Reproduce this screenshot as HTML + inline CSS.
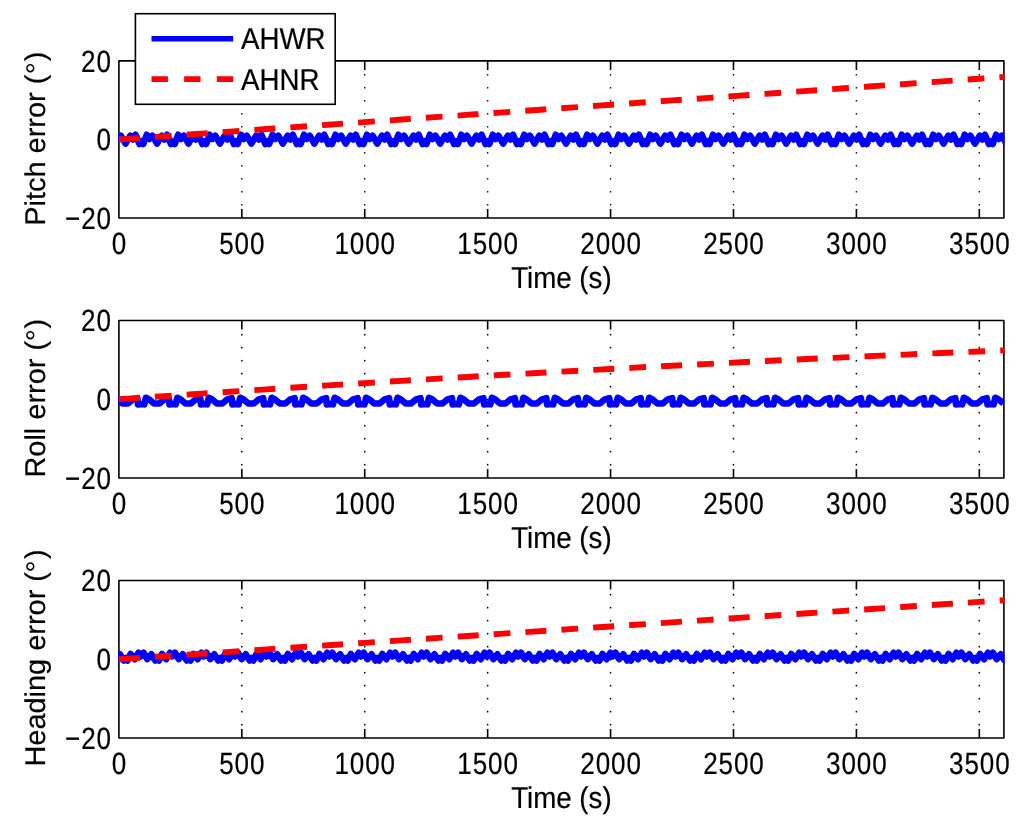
<!DOCTYPE html>
<html><head><meta charset="utf-8"><title>Attitude errors</title>
<style>html,body{margin:0;padding:0;background:#fff}svg{display:block}text{text-rendering:geometricPrecision;font-family:"Liberation Sans",Arial,Helvetica,sans-serif;font-size:27.7px;fill:#000;stroke:#000;stroke-width:0.2px}text.d{letter-spacing:0.98px}</style></head><body>
<svg width="1024" height="820" viewBox="0 0 1024 820">
<rect width="1024" height="820" fill="#fff"/>
<defs>
<clipPath id="c0"><rect x="118.15" y="60.90" width="886.25" height="157.15"/></clipPath>
<clipPath id="c1"><rect x="118.15" y="320.50" width="886.25" height="157.50"/></clipPath>
<clipPath id="c2"><rect x="118.15" y="580.50" width="886.25" height="157.50"/></clipPath>
</defs>
<rect x="118.90" y="60.90" width="885.00" height="157.15" fill="none" stroke="#000" stroke-linejoin="round" stroke-width="1.6"/>
<path d="M241.82 218.05v-9M241.82 60.90v9M364.73 218.05v-9M364.73 60.90v9M487.65 218.05v-9M487.65 60.90v9M610.57 218.05v-9M610.57 60.90v9M733.48 218.05v-9M733.48 60.90v9M856.40 218.05v-9M856.40 60.90v9M979.32 218.05v-9M979.32 60.90v9M118.90 139.47h9M1003.90 139.47h-9" stroke="#000" stroke-width="1.6" fill="none"/>
<line x1="241.82" y1="204.75" x2="241.82" y2="72.90" stroke="#000" stroke-width="1.7" stroke-dasharray="0.01 12.99" stroke-linecap="round"/>
<line x1="364.73" y1="204.75" x2="364.73" y2="72.90" stroke="#000" stroke-width="1.7" stroke-dasharray="0.01 12.99" stroke-linecap="round"/>
<line x1="487.65" y1="204.75" x2="487.65" y2="72.90" stroke="#000" stroke-width="1.7" stroke-dasharray="0.01 12.99" stroke-linecap="round"/>
<line x1="610.57" y1="204.75" x2="610.57" y2="72.90" stroke="#000" stroke-width="1.7" stroke-dasharray="0.01 12.99" stroke-linecap="round"/>
<line x1="733.48" y1="204.75" x2="733.48" y2="72.90" stroke="#000" stroke-width="1.7" stroke-dasharray="0.01 12.99" stroke-linecap="round"/>
<line x1="856.40" y1="204.75" x2="856.40" y2="72.90" stroke="#000" stroke-width="1.7" stroke-dasharray="0.01 12.99" stroke-linecap="round"/>
<line x1="979.32" y1="204.75" x2="979.32" y2="72.90" stroke="#000" stroke-width="1.7" stroke-dasharray="0.01 12.99" stroke-linecap="round"/>
<g clip-path="url(#c0)"><polyline fill="none" stroke="#0000ff" stroke-width="6.5" stroke-linejoin="round" stroke-linecap="butt" points="76.63,144.10 78.48,141.10 80.33,144.10 83.83,134.70 86.58,139.00 89.48,135.60 94.08,143.60 98.83,135.60 101.48,139.50 104.08,134.70 108.09,144.10 109.94,141.10 111.79,144.10 115.29,134.70 118.04,139.00 120.94,135.60 125.54,143.60 130.29,135.60 132.94,139.50 135.54,134.70 139.55,144.10 141.40,141.10 143.25,144.10 146.75,134.70 149.50,139.00 152.40,135.60 157.00,143.60 161.75,135.60 164.40,139.50 167.00,134.70 171.01,144.10 172.86,141.10 174.71,144.10 178.21,134.70 180.96,139.00 183.86,135.60 188.46,143.60 193.21,135.60 195.86,139.50 198.46,134.70 202.47,144.10 204.32,141.10 206.17,144.10 209.67,134.70 212.42,139.00 215.32,135.60 219.92,143.60 224.67,135.60 227.32,139.50 229.92,134.70 233.93,144.10 235.78,141.10 237.63,144.10 241.13,134.70 243.88,139.00 246.78,135.60 251.38,143.60 256.13,135.60 258.78,139.50 261.38,134.70 265.39,144.10 267.24,141.10 269.09,144.10 272.59,134.70 275.34,139.00 278.24,135.60 282.84,143.60 287.59,135.60 290.24,139.50 292.84,134.70 296.85,144.10 298.70,141.10 300.55,144.10 304.05,134.70 306.80,139.00 309.70,135.60 314.30,143.60 319.05,135.60 321.70,139.50 324.30,134.70 328.31,144.10 330.16,141.10 332.01,144.10 335.51,134.70 338.26,139.00 341.16,135.60 345.76,143.60 350.51,135.60 353.16,139.50 355.76,134.70 359.77,144.10 361.62,141.10 363.47,144.10 366.97,134.70 369.72,139.00 372.62,135.60 377.22,143.60 381.97,135.60 384.62,139.50 387.22,134.70 391.23,144.10 393.08,141.10 394.93,144.10 398.43,134.70 401.18,139.00 404.08,135.60 408.68,143.60 413.43,135.60 416.08,139.50 418.68,134.70 422.69,144.10 424.54,141.10 426.39,144.10 429.89,134.70 432.64,139.00 435.54,135.60 440.14,143.60 444.89,135.60 447.54,139.50 450.14,134.70 454.15,144.10 456.00,141.10 457.85,144.10 461.35,134.70 464.10,139.00 467.00,135.60 471.60,143.60 476.35,135.60 479.00,139.50 481.60,134.70 485.61,144.10 487.46,141.10 489.31,144.10 492.81,134.70 495.56,139.00 498.46,135.60 503.06,143.60 507.81,135.60 510.46,139.50 513.06,134.70 517.07,144.10 518.92,141.10 520.77,144.10 524.27,134.70 527.02,139.00 529.92,135.60 534.52,143.60 539.27,135.60 541.92,139.50 544.52,134.70 548.53,144.10 550.38,141.10 552.23,144.10 555.73,134.70 558.48,139.00 561.38,135.60 565.98,143.60 570.73,135.60 573.38,139.50 575.98,134.70 579.99,144.10 581.84,141.10 583.69,144.10 587.19,134.70 589.94,139.00 592.84,135.60 597.44,143.60 602.19,135.60 604.84,139.50 607.44,134.70 611.45,144.10 613.30,141.10 615.15,144.10 618.65,134.70 621.40,139.00 624.30,135.60 628.90,143.60 633.65,135.60 636.30,139.50 638.90,134.70 642.91,144.10 644.76,141.10 646.61,144.10 650.11,134.70 652.86,139.00 655.76,135.60 660.36,143.60 665.11,135.60 667.76,139.50 670.36,134.70 674.37,144.10 676.22,141.10 678.07,144.10 681.57,134.70 684.32,139.00 687.22,135.60 691.82,143.60 696.57,135.60 699.22,139.50 701.82,134.70 705.83,144.10 707.68,141.10 709.53,144.10 713.03,134.70 715.78,139.00 718.68,135.60 723.28,143.60 728.03,135.60 730.68,139.50 733.28,134.70 737.29,144.10 739.14,141.10 740.99,144.10 744.49,134.70 747.24,139.00 750.14,135.60 754.74,143.60 759.49,135.60 762.14,139.50 764.74,134.70 768.75,144.10 770.60,141.10 772.45,144.10 775.95,134.70 778.70,139.00 781.60,135.60 786.20,143.60 790.95,135.60 793.60,139.50 796.20,134.70 800.21,144.10 802.06,141.10 803.91,144.10 807.41,134.70 810.16,139.00 813.06,135.60 817.66,143.60 822.41,135.60 825.06,139.50 827.66,134.70 831.67,144.10 833.52,141.10 835.37,144.10 838.87,134.70 841.62,139.00 844.52,135.60 849.12,143.60 853.87,135.60 856.52,139.50 859.12,134.70 863.13,144.10 864.98,141.10 866.83,144.10 870.33,134.70 873.08,139.00 875.98,135.60 880.58,143.60 885.33,135.60 887.98,139.50 890.58,134.70 894.59,144.10 896.44,141.10 898.29,144.10 901.79,134.70 904.54,139.00 907.44,135.60 912.04,143.60 916.79,135.60 919.44,139.50 922.04,134.70 926.05,144.10 927.90,141.10 929.75,144.10 933.25,134.70 936.00,139.00 938.90,135.60 943.50,143.60 948.25,135.60 950.90,139.50 953.50,134.70 957.51,144.10 959.36,141.10 961.21,144.10 964.71,134.70 967.46,139.00 970.36,135.60 974.96,143.60 979.71,135.60 982.36,139.50 984.96,134.70 988.97,144.10 990.82,141.10 992.67,144.10 996.17,134.70 998.92,139.00 1001.82,135.60 1006.42,143.60 1011.17,135.60 1013.82,139.50 1016.42,134.70"/>
<polyline fill="none" points="118.90,139.47 131.19,138.61 143.48,137.74 155.78,136.87 168.07,136.00 180.36,135.14 192.65,134.27 204.94,133.40 217.23,132.53 229.53,131.67 241.82,130.80 254.11,129.93 266.40,129.06 278.69,128.20 290.98,127.33 303.27,126.46 315.57,125.59 327.86,124.73 340.15,123.86 352.44,122.99 364.73,122.12 377.02,121.26 389.32,120.39 401.61,119.52 413.90,118.65 426.19,117.79 438.48,116.92 450.77,116.05 463.07,115.18 475.36,114.31 487.65,113.45 499.94,112.58 512.23,111.71 524.52,110.84 536.82,109.98 549.11,109.11 561.40,108.24 573.69,107.37 585.98,106.51 598.27,105.64 610.57,104.77 622.86,103.90 635.15,103.04 647.44,102.17 659.73,101.30 672.02,100.43 684.32,99.57 696.61,98.70 708.90,97.83 721.19,96.96 733.48,96.10 745.77,95.23 758.07,94.36 770.36,93.49 782.65,92.62 794.94,91.76 807.23,90.89 819.52,90.02 831.82,89.15 844.11,88.29 856.40,87.42 868.69,86.55 880.98,85.68 893.27,84.82 905.57,83.95 917.86,83.08 930.15,82.21 942.44,81.35 954.73,80.48 967.02,79.61 979.32,78.74 991.61,77.88 1003.90,77.01 1005.38,76.90" stroke="#ff0000" stroke-width="5.9" stroke-dasharray="21.05 15.04 16.74 15.07"/></g>
<text class="d" transform="translate(119.36 254.05) scale(0.94 1.115)" text-anchor="middle">0</text>
<text class="d" transform="translate(242.28 254.05) scale(0.94 1.115)" text-anchor="middle">500</text>
<text class="d" transform="translate(365.19 254.05) scale(0.94 1.115)" text-anchor="middle">1000</text>
<text class="d" transform="translate(488.11 254.05) scale(0.94 1.115)" text-anchor="middle">1500</text>
<text class="d" transform="translate(611.03 254.05) scale(0.94 1.115)" text-anchor="middle">2000</text>
<text class="d" transform="translate(733.94 254.05) scale(0.94 1.115)" text-anchor="middle">2500</text>
<text class="d" transform="translate(856.86 254.05) scale(0.94 1.115)" text-anchor="middle">3000</text>
<text class="d" transform="translate(979.78 254.05) scale(0.94 1.115)" text-anchor="middle">3500</text>
<text class="d" transform="translate(111.92 71.60) scale(0.94 1.115)" text-anchor="end">20</text>
<text class="d" transform="translate(111.92 150.17) scale(0.94 1.115)" text-anchor="end">0</text>
<text class="d" transform="translate(111.92 228.75) scale(0.94 1.115)" text-anchor="end">−20</text>
<text transform="translate(561.40 287.85) scale(1 1.090)" text-anchor="middle">Time (s)</text>
<g transform="translate(44.6 139.47) scale(1.03 1.045) rotate(-90)"><text x="62.00" y="0" text-anchor="end">Pitch error (</text><text x="68.17" y="2.2" text-anchor="middle" style="font-size:29px;stroke:none">°</text><text x="79.45" y="0" text-anchor="middle">)</text></g>
<rect x="118.90" y="320.50" width="885.00" height="157.50" fill="none" stroke="#000" stroke-linejoin="round" stroke-width="1.6"/>
<path d="M241.82 478.00v-9M241.82 320.50v9M364.73 478.00v-9M364.73 320.50v9M487.65 478.00v-9M487.65 320.50v9M610.57 478.00v-9M610.57 320.50v9M733.48 478.00v-9M733.48 320.50v9M856.40 478.00v-9M856.40 320.50v9M979.32 478.00v-9M979.32 320.50v9M118.90 399.25h9M1003.90 399.25h-9" stroke="#000" stroke-width="1.6" fill="none"/>
<line x1="241.82" y1="464.70" x2="241.82" y2="332.50" stroke="#000" stroke-width="1.7" stroke-dasharray="0.01 12.99" stroke-linecap="round"/>
<line x1="364.73" y1="464.70" x2="364.73" y2="332.50" stroke="#000" stroke-width="1.7" stroke-dasharray="0.01 12.99" stroke-linecap="round"/>
<line x1="487.65" y1="464.70" x2="487.65" y2="332.50" stroke="#000" stroke-width="1.7" stroke-dasharray="0.01 12.99" stroke-linecap="round"/>
<line x1="610.57" y1="464.70" x2="610.57" y2="332.50" stroke="#000" stroke-width="1.7" stroke-dasharray="0.01 12.99" stroke-linecap="round"/>
<line x1="733.48" y1="464.70" x2="733.48" y2="332.50" stroke="#000" stroke-width="1.7" stroke-dasharray="0.01 12.99" stroke-linecap="round"/>
<line x1="856.40" y1="464.70" x2="856.40" y2="332.50" stroke="#000" stroke-width="1.7" stroke-dasharray="0.01 12.99" stroke-linecap="round"/>
<line x1="979.32" y1="464.70" x2="979.32" y2="332.50" stroke="#000" stroke-width="1.7" stroke-dasharray="0.01 12.99" stroke-linecap="round"/>
<g clip-path="url(#c1)"><polyline fill="none" stroke="#0000ff" stroke-width="6.5" stroke-linejoin="round" stroke-linecap="butt" points="65.08,403.40 70.08,399.30 74.48,398.10 75.08,404.40 78.48,404.00 81.33,404.40 82.88,397.70 86.33,399.40 91.08,403.40 96.54,403.40 101.54,399.30 105.94,398.10 106.54,404.40 109.94,404.00 112.79,404.40 114.34,397.70 117.79,399.40 122.54,403.40 128.00,403.40 133.00,399.30 137.40,398.10 138.00,404.40 141.40,404.00 144.25,404.40 145.80,397.70 149.25,399.40 154.00,403.40 159.46,403.40 164.46,399.30 168.86,398.10 169.46,404.40 172.86,404.00 175.71,404.40 177.26,397.70 180.71,399.40 185.46,403.40 190.92,403.40 195.92,399.30 200.32,398.10 200.92,404.40 204.32,404.00 207.17,404.40 208.72,397.70 212.17,399.40 216.92,403.40 222.38,403.40 227.38,399.30 231.78,398.10 232.38,404.40 235.78,404.00 238.63,404.40 240.18,397.70 243.63,399.40 248.38,403.40 253.84,403.40 258.84,399.30 263.24,398.10 263.84,404.40 267.24,404.00 270.09,404.40 271.64,397.70 275.09,399.40 279.84,403.40 285.30,403.40 290.30,399.30 294.70,398.10 295.30,404.40 298.70,404.00 301.55,404.40 303.10,397.70 306.55,399.40 311.30,403.40 316.76,403.40 321.76,399.30 326.16,398.10 326.76,404.40 330.16,404.00 333.01,404.40 334.56,397.70 338.01,399.40 342.76,403.40 348.22,403.40 353.22,399.30 357.62,398.10 358.22,404.40 361.62,404.00 364.47,404.40 366.02,397.70 369.47,399.40 374.22,403.40 379.68,403.40 384.68,399.30 389.08,398.10 389.68,404.40 393.08,404.00 395.93,404.40 397.48,397.70 400.93,399.40 405.68,403.40 411.14,403.40 416.14,399.30 420.54,398.10 421.14,404.40 424.54,404.00 427.39,404.40 428.94,397.70 432.39,399.40 437.14,403.40 442.60,403.40 447.60,399.30 452.00,398.10 452.60,404.40 456.00,404.00 458.85,404.40 460.40,397.70 463.85,399.40 468.60,403.40 474.06,403.40 479.06,399.30 483.46,398.10 484.06,404.40 487.46,404.00 490.31,404.40 491.86,397.70 495.31,399.40 500.06,403.40 505.52,403.40 510.52,399.30 514.92,398.10 515.52,404.40 518.92,404.00 521.77,404.40 523.32,397.70 526.77,399.40 531.52,403.40 536.98,403.40 541.98,399.30 546.38,398.10 546.98,404.40 550.38,404.00 553.23,404.40 554.78,397.70 558.23,399.40 562.98,403.40 568.44,403.40 573.44,399.30 577.84,398.10 578.44,404.40 581.84,404.00 584.69,404.40 586.24,397.70 589.69,399.40 594.44,403.40 599.90,403.40 604.90,399.30 609.30,398.10 609.90,404.40 613.30,404.00 616.15,404.40 617.70,397.70 621.15,399.40 625.90,403.40 631.36,403.40 636.36,399.30 640.76,398.10 641.36,404.40 644.76,404.00 647.61,404.40 649.16,397.70 652.61,399.40 657.36,403.40 662.82,403.40 667.82,399.30 672.22,398.10 672.82,404.40 676.22,404.00 679.07,404.40 680.62,397.70 684.07,399.40 688.82,403.40 694.28,403.40 699.28,399.30 703.68,398.10 704.28,404.40 707.68,404.00 710.53,404.40 712.08,397.70 715.53,399.40 720.28,403.40 725.74,403.40 730.74,399.30 735.14,398.10 735.74,404.40 739.14,404.00 741.99,404.40 743.54,397.70 746.99,399.40 751.74,403.40 757.20,403.40 762.20,399.30 766.60,398.10 767.20,404.40 770.60,404.00 773.45,404.40 775.00,397.70 778.45,399.40 783.20,403.40 788.66,403.40 793.66,399.30 798.06,398.10 798.66,404.40 802.06,404.00 804.91,404.40 806.46,397.70 809.91,399.40 814.66,403.40 820.12,403.40 825.12,399.30 829.52,398.10 830.12,404.40 833.52,404.00 836.37,404.40 837.92,397.70 841.37,399.40 846.12,403.40 851.58,403.40 856.58,399.30 860.98,398.10 861.58,404.40 864.98,404.00 867.83,404.40 869.38,397.70 872.83,399.40 877.58,403.40 883.04,403.40 888.04,399.30 892.44,398.10 893.04,404.40 896.44,404.00 899.29,404.40 900.84,397.70 904.29,399.40 909.04,403.40 914.50,403.40 919.50,399.30 923.90,398.10 924.50,404.40 927.90,404.00 930.75,404.40 932.30,397.70 935.75,399.40 940.50,403.40 945.96,403.40 950.96,399.30 955.36,398.10 955.96,404.40 959.36,404.00 962.21,404.40 963.76,397.70 967.21,399.40 971.96,403.40 977.42,403.40 982.42,399.30 986.82,398.10 987.42,404.40 990.82,404.00 993.67,404.40 995.22,397.70 998.67,399.40 1003.42,403.40"/>
<polyline fill="none" points="118.90,399.25 131.19,398.40 143.48,397.55 155.78,396.70 168.07,395.86 180.36,395.03 192.65,394.20 204.94,393.37 217.23,392.55 229.53,391.74 241.82,390.93 254.11,390.13 266.40,389.33 278.69,388.53 290.98,387.74 303.27,386.96 315.57,386.18 327.86,385.40 340.15,384.63 352.44,383.87 364.73,383.11 377.02,382.35 389.32,381.60 401.61,380.86 413.90,380.12 426.19,379.38 438.48,378.65 450.77,377.92 463.07,377.20 475.36,376.49 487.65,375.78 499.94,375.07 512.23,374.37 524.52,373.68 536.82,372.99 549.11,372.30 561.40,371.62 573.69,370.94 585.98,370.27 598.27,369.61 610.57,368.95 622.86,368.29 635.15,367.64 647.44,366.99 659.73,366.35 672.02,365.72 684.32,365.09 696.61,364.46 708.90,363.84 721.19,363.22 733.48,362.61 745.77,362.01 758.07,361.40 770.36,360.81 782.65,360.22 794.94,359.63 807.23,359.05 819.52,358.47 831.82,357.90 844.11,357.33 856.40,356.77 868.69,356.22 880.98,355.66 893.27,355.12 905.57,354.58 917.86,354.04 930.15,353.51 942.44,352.98 954.73,352.46 967.02,351.94 979.32,351.43 991.61,350.92 1003.90,350.42 1005.38,350.36" stroke="#ff0000" stroke-width="5.9" stroke-dasharray="21.05 15.04 16.74 15.07"/></g>
<text class="d" transform="translate(119.36 514.00) scale(0.94 1.115)" text-anchor="middle">0</text>
<text class="d" transform="translate(242.28 514.00) scale(0.94 1.115)" text-anchor="middle">500</text>
<text class="d" transform="translate(365.19 514.00) scale(0.94 1.115)" text-anchor="middle">1000</text>
<text class="d" transform="translate(488.11 514.00) scale(0.94 1.115)" text-anchor="middle">1500</text>
<text class="d" transform="translate(611.03 514.00) scale(0.94 1.115)" text-anchor="middle">2000</text>
<text class="d" transform="translate(733.94 514.00) scale(0.94 1.115)" text-anchor="middle">2500</text>
<text class="d" transform="translate(856.86 514.00) scale(0.94 1.115)" text-anchor="middle">3000</text>
<text class="d" transform="translate(979.78 514.00) scale(0.94 1.115)" text-anchor="middle">3500</text>
<text class="d" transform="translate(111.92 331.20) scale(0.94 1.115)" text-anchor="end">20</text>
<text class="d" transform="translate(111.92 409.95) scale(0.94 1.115)" text-anchor="end">0</text>
<text class="d" transform="translate(111.92 488.70) scale(0.94 1.115)" text-anchor="end">−20</text>
<text transform="translate(561.40 547.80) scale(1 1.090)" text-anchor="middle">Time (s)</text>
<g transform="translate(44.6 399.25) scale(1.03 1.045) rotate(-90)"><text x="55.80" y="0" text-anchor="end">Roll error (</text><text x="61.20" y="2.2" text-anchor="middle" style="font-size:29px;stroke:none">°</text><text x="72.35" y="0" text-anchor="middle">)</text></g>
<rect x="118.90" y="580.50" width="885.00" height="157.50" fill="none" stroke="#000" stroke-linejoin="round" stroke-width="1.6"/>
<path d="M241.82 738.00v-9M241.82 580.50v9M364.73 738.00v-9M364.73 580.50v9M487.65 738.00v-9M487.65 580.50v9M610.57 738.00v-9M610.57 580.50v9M733.48 738.00v-9M733.48 580.50v9M856.40 738.00v-9M856.40 580.50v9M979.32 738.00v-9M979.32 580.50v9M118.90 659.25h9M1003.90 659.25h-9" stroke="#000" stroke-width="1.6" fill="none"/>
<line x1="241.82" y1="724.70" x2="241.82" y2="592.50" stroke="#000" stroke-width="1.7" stroke-dasharray="0.01 12.99" stroke-linecap="round"/>
<line x1="364.73" y1="724.70" x2="364.73" y2="592.50" stroke="#000" stroke-width="1.7" stroke-dasharray="0.01 12.99" stroke-linecap="round"/>
<line x1="487.65" y1="724.70" x2="487.65" y2="592.50" stroke="#000" stroke-width="1.7" stroke-dasharray="0.01 12.99" stroke-linecap="round"/>
<line x1="610.57" y1="724.70" x2="610.57" y2="592.50" stroke="#000" stroke-width="1.7" stroke-dasharray="0.01 12.99" stroke-linecap="round"/>
<line x1="733.48" y1="724.70" x2="733.48" y2="592.50" stroke="#000" stroke-width="1.7" stroke-dasharray="0.01 12.99" stroke-linecap="round"/>
<line x1="856.40" y1="724.70" x2="856.40" y2="592.50" stroke="#000" stroke-width="1.7" stroke-dasharray="0.01 12.99" stroke-linecap="round"/>
<line x1="979.32" y1="724.70" x2="979.32" y2="592.50" stroke="#000" stroke-width="1.7" stroke-dasharray="0.01 12.99" stroke-linecap="round"/>
<g clip-path="url(#c2)"><polyline fill="none" stroke="#0000ff" stroke-width="6.5" stroke-linejoin="round" stroke-linecap="butt" points="60.92,660.60 63.12,658.00 64.62,660.60 67.72,654.00 71.82,659.20 75.62,652.70 77.72,656.50 80.62,652.70 84.32,659.20 88.42,654.30 92.38,660.60 94.58,658.00 96.08,660.60 99.18,654.00 103.28,659.20 107.08,652.70 109.18,656.50 112.08,652.70 115.78,659.20 119.88,654.30 123.84,660.60 126.04,658.00 127.54,660.60 130.64,654.00 134.74,659.20 138.54,652.70 140.64,656.50 143.54,652.70 147.24,659.20 151.34,654.30 155.30,660.60 157.50,658.00 159.00,660.60 162.10,654.00 166.20,659.20 170.00,652.70 172.10,656.50 175.00,652.70 178.70,659.20 182.80,654.30 186.76,660.60 188.96,658.00 190.46,660.60 193.56,654.00 197.66,659.20 201.46,652.70 203.56,656.50 206.46,652.70 210.16,659.20 214.26,654.30 218.22,660.60 220.42,658.00 221.92,660.60 225.02,654.00 229.12,659.20 232.92,652.70 235.02,656.50 237.92,652.70 241.62,659.20 245.72,654.30 249.68,660.60 251.88,658.00 253.38,660.60 256.48,654.00 260.58,659.20 264.38,652.70 266.48,656.50 269.38,652.70 273.08,659.20 277.18,654.30 281.14,660.60 283.34,658.00 284.84,660.60 287.94,654.00 292.04,659.20 295.84,652.70 297.94,656.50 300.84,652.70 304.54,659.20 308.64,654.30 312.60,660.60 314.80,658.00 316.30,660.60 319.40,654.00 323.50,659.20 327.30,652.70 329.40,656.50 332.30,652.70 336.00,659.20 340.10,654.30 344.06,660.60 346.26,658.00 347.76,660.60 350.86,654.00 354.96,659.20 358.76,652.70 360.86,656.50 363.76,652.70 367.46,659.20 371.56,654.30 375.52,660.60 377.72,658.00 379.22,660.60 382.32,654.00 386.42,659.20 390.22,652.70 392.32,656.50 395.22,652.70 398.92,659.20 403.02,654.30 406.98,660.60 409.18,658.00 410.68,660.60 413.78,654.00 417.88,659.20 421.68,652.70 423.78,656.50 426.68,652.70 430.38,659.20 434.48,654.30 438.44,660.60 440.64,658.00 442.14,660.60 445.24,654.00 449.34,659.20 453.14,652.70 455.24,656.50 458.14,652.70 461.84,659.20 465.94,654.30 469.90,660.60 472.10,658.00 473.60,660.60 476.70,654.00 480.80,659.20 484.60,652.70 486.70,656.50 489.60,652.70 493.30,659.20 497.40,654.30 501.36,660.60 503.56,658.00 505.06,660.60 508.16,654.00 512.26,659.20 516.06,652.70 518.16,656.50 521.06,652.70 524.76,659.20 528.86,654.30 532.82,660.60 535.02,658.00 536.52,660.60 539.62,654.00 543.72,659.20 547.52,652.70 549.62,656.50 552.52,652.70 556.22,659.20 560.32,654.30 564.28,660.60 566.48,658.00 567.98,660.60 571.08,654.00 575.18,659.20 578.98,652.70 581.08,656.50 583.98,652.70 587.68,659.20 591.78,654.30 595.74,660.60 597.94,658.00 599.44,660.60 602.54,654.00 606.64,659.20 610.44,652.70 612.54,656.50 615.44,652.70 619.14,659.20 623.24,654.30 627.20,660.60 629.40,658.00 630.90,660.60 634.00,654.00 638.10,659.20 641.90,652.70 644.00,656.50 646.90,652.70 650.60,659.20 654.70,654.30 658.66,660.60 660.86,658.00 662.36,660.60 665.46,654.00 669.56,659.20 673.36,652.70 675.46,656.50 678.36,652.70 682.06,659.20 686.16,654.30 690.12,660.60 692.32,658.00 693.82,660.60 696.92,654.00 701.02,659.20 704.82,652.70 706.92,656.50 709.82,652.70 713.52,659.20 717.62,654.30 721.58,660.60 723.78,658.00 725.28,660.60 728.38,654.00 732.48,659.20 736.28,652.70 738.38,656.50 741.28,652.70 744.98,659.20 749.08,654.30 753.04,660.60 755.24,658.00 756.74,660.60 759.84,654.00 763.94,659.20 767.74,652.70 769.84,656.50 772.74,652.70 776.44,659.20 780.54,654.30 784.50,660.60 786.70,658.00 788.20,660.60 791.30,654.00 795.40,659.20 799.20,652.70 801.30,656.50 804.20,652.70 807.90,659.20 812.00,654.30 815.96,660.60 818.16,658.00 819.66,660.60 822.76,654.00 826.86,659.20 830.66,652.70 832.76,656.50 835.66,652.70 839.36,659.20 843.46,654.30 847.42,660.60 849.62,658.00 851.12,660.60 854.22,654.00 858.32,659.20 862.12,652.70 864.22,656.50 867.12,652.70 870.82,659.20 874.92,654.30 878.88,660.60 881.08,658.00 882.58,660.60 885.68,654.00 889.78,659.20 893.58,652.70 895.68,656.50 898.58,652.70 902.28,659.20 906.38,654.30 910.34,660.60 912.54,658.00 914.04,660.60 917.14,654.00 921.24,659.20 925.04,652.70 927.14,656.50 930.04,652.70 933.74,659.20 937.84,654.30 941.80,660.60 944.00,658.00 945.50,660.60 948.60,654.00 952.70,659.20 956.50,652.70 958.60,656.50 961.50,652.70 965.20,659.20 969.30,654.30 973.26,660.60 975.46,658.00 976.96,660.60 980.06,654.00 984.16,659.20 987.96,652.70 990.06,656.50 992.96,652.70 996.66,659.20 1000.76,654.30 1004.72,660.60 1006.92,658.00 1008.42,660.60 1011.52,654.00 1015.62,659.20 1019.42,652.70 1021.52,656.50 1024.42,652.70 1028.12,659.20 1032.22,654.30"/>
<polyline fill="none" points="118.90,659.25 131.19,658.43 143.48,657.61 155.78,656.79 168.07,655.97 180.36,655.15 192.65,654.33 204.94,653.51 217.23,652.69 229.53,651.87 241.82,651.05 254.11,650.23 266.40,649.41 278.69,648.59 290.98,647.77 303.27,646.95 315.57,646.12 327.86,645.30 340.15,644.48 352.44,643.66 364.73,642.84 377.02,642.02 389.32,641.20 401.61,640.38 413.90,639.56 426.19,638.74 438.48,637.92 450.77,637.10 463.07,636.28 475.36,635.46 487.65,634.64 499.94,633.82 512.23,633.00 524.52,632.18 536.82,631.36 549.11,630.54 561.40,629.72 573.69,628.90 585.98,628.08 598.27,627.26 610.57,626.44 622.86,625.62 635.15,624.80 647.44,623.98 659.73,623.16 672.02,622.34 684.32,621.52 696.61,620.70 708.90,619.88 721.19,619.05 733.48,618.23 745.77,617.41 758.07,616.59 770.36,615.77 782.65,614.95 794.94,614.13 807.23,613.31 819.52,612.49 831.82,611.67 844.11,610.85 856.40,610.03 868.69,609.21 880.98,608.39 893.27,607.57 905.57,606.75 917.86,605.93 930.15,605.11 942.44,604.29 954.73,603.47 967.02,602.65 979.32,601.83 991.61,601.01 1003.90,600.19 1005.38,600.09" stroke="#ff0000" stroke-width="5.9" stroke-dasharray="21.05 15.04 16.74 15.07"/></g>
<text class="d" transform="translate(119.36 774.00) scale(0.94 1.115)" text-anchor="middle">0</text>
<text class="d" transform="translate(242.28 774.00) scale(0.94 1.115)" text-anchor="middle">500</text>
<text class="d" transform="translate(365.19 774.00) scale(0.94 1.115)" text-anchor="middle">1000</text>
<text class="d" transform="translate(488.11 774.00) scale(0.94 1.115)" text-anchor="middle">1500</text>
<text class="d" transform="translate(611.03 774.00) scale(0.94 1.115)" text-anchor="middle">2000</text>
<text class="d" transform="translate(733.94 774.00) scale(0.94 1.115)" text-anchor="middle">2500</text>
<text class="d" transform="translate(856.86 774.00) scale(0.94 1.115)" text-anchor="middle">3000</text>
<text class="d" transform="translate(979.78 774.00) scale(0.94 1.115)" text-anchor="middle">3500</text>
<text class="d" transform="translate(111.92 591.20) scale(0.94 1.115)" text-anchor="end">20</text>
<text class="d" transform="translate(111.92 669.95) scale(0.94 1.115)" text-anchor="end">0</text>
<text class="d" transform="translate(111.92 748.70) scale(0.94 1.115)" text-anchor="end">−20</text>
<text transform="translate(561.40 807.80) scale(1 1.090)" text-anchor="middle">Time (s)</text>
<g transform="translate(44.6 659.25) scale(1.03 1.045) rotate(-90)"><text x="83.50" y="0" text-anchor="end">Heading error (</text><text x="88.75" y="2.2" text-anchor="middle" style="font-size:29px;stroke:none">°</text><text x="100.45" y="0" text-anchor="middle">)</text></g>
<rect x="135.4" y="13.7" width="199.8" height="90.6" fill="#fff" stroke="#000" stroke-width="1.6"/>
<line x1="151.5" y1="38.8" x2="233.2" y2="38.8" stroke="#0000ff" stroke-width="5.6"/>
<line x1="151.5" y1="79.2" x2="233.2" y2="79.2" stroke="#ff0000" stroke-width="5.8" stroke-dasharray="16.4 16.25"/>
<text transform="translate(241.00 49.00) scale(1 1.090)" text-anchor="start">AHWR</text>
<text transform="translate(241.00 89.80) scale(1 1.090)" text-anchor="start">AHNR</text>
</svg></body></html>
